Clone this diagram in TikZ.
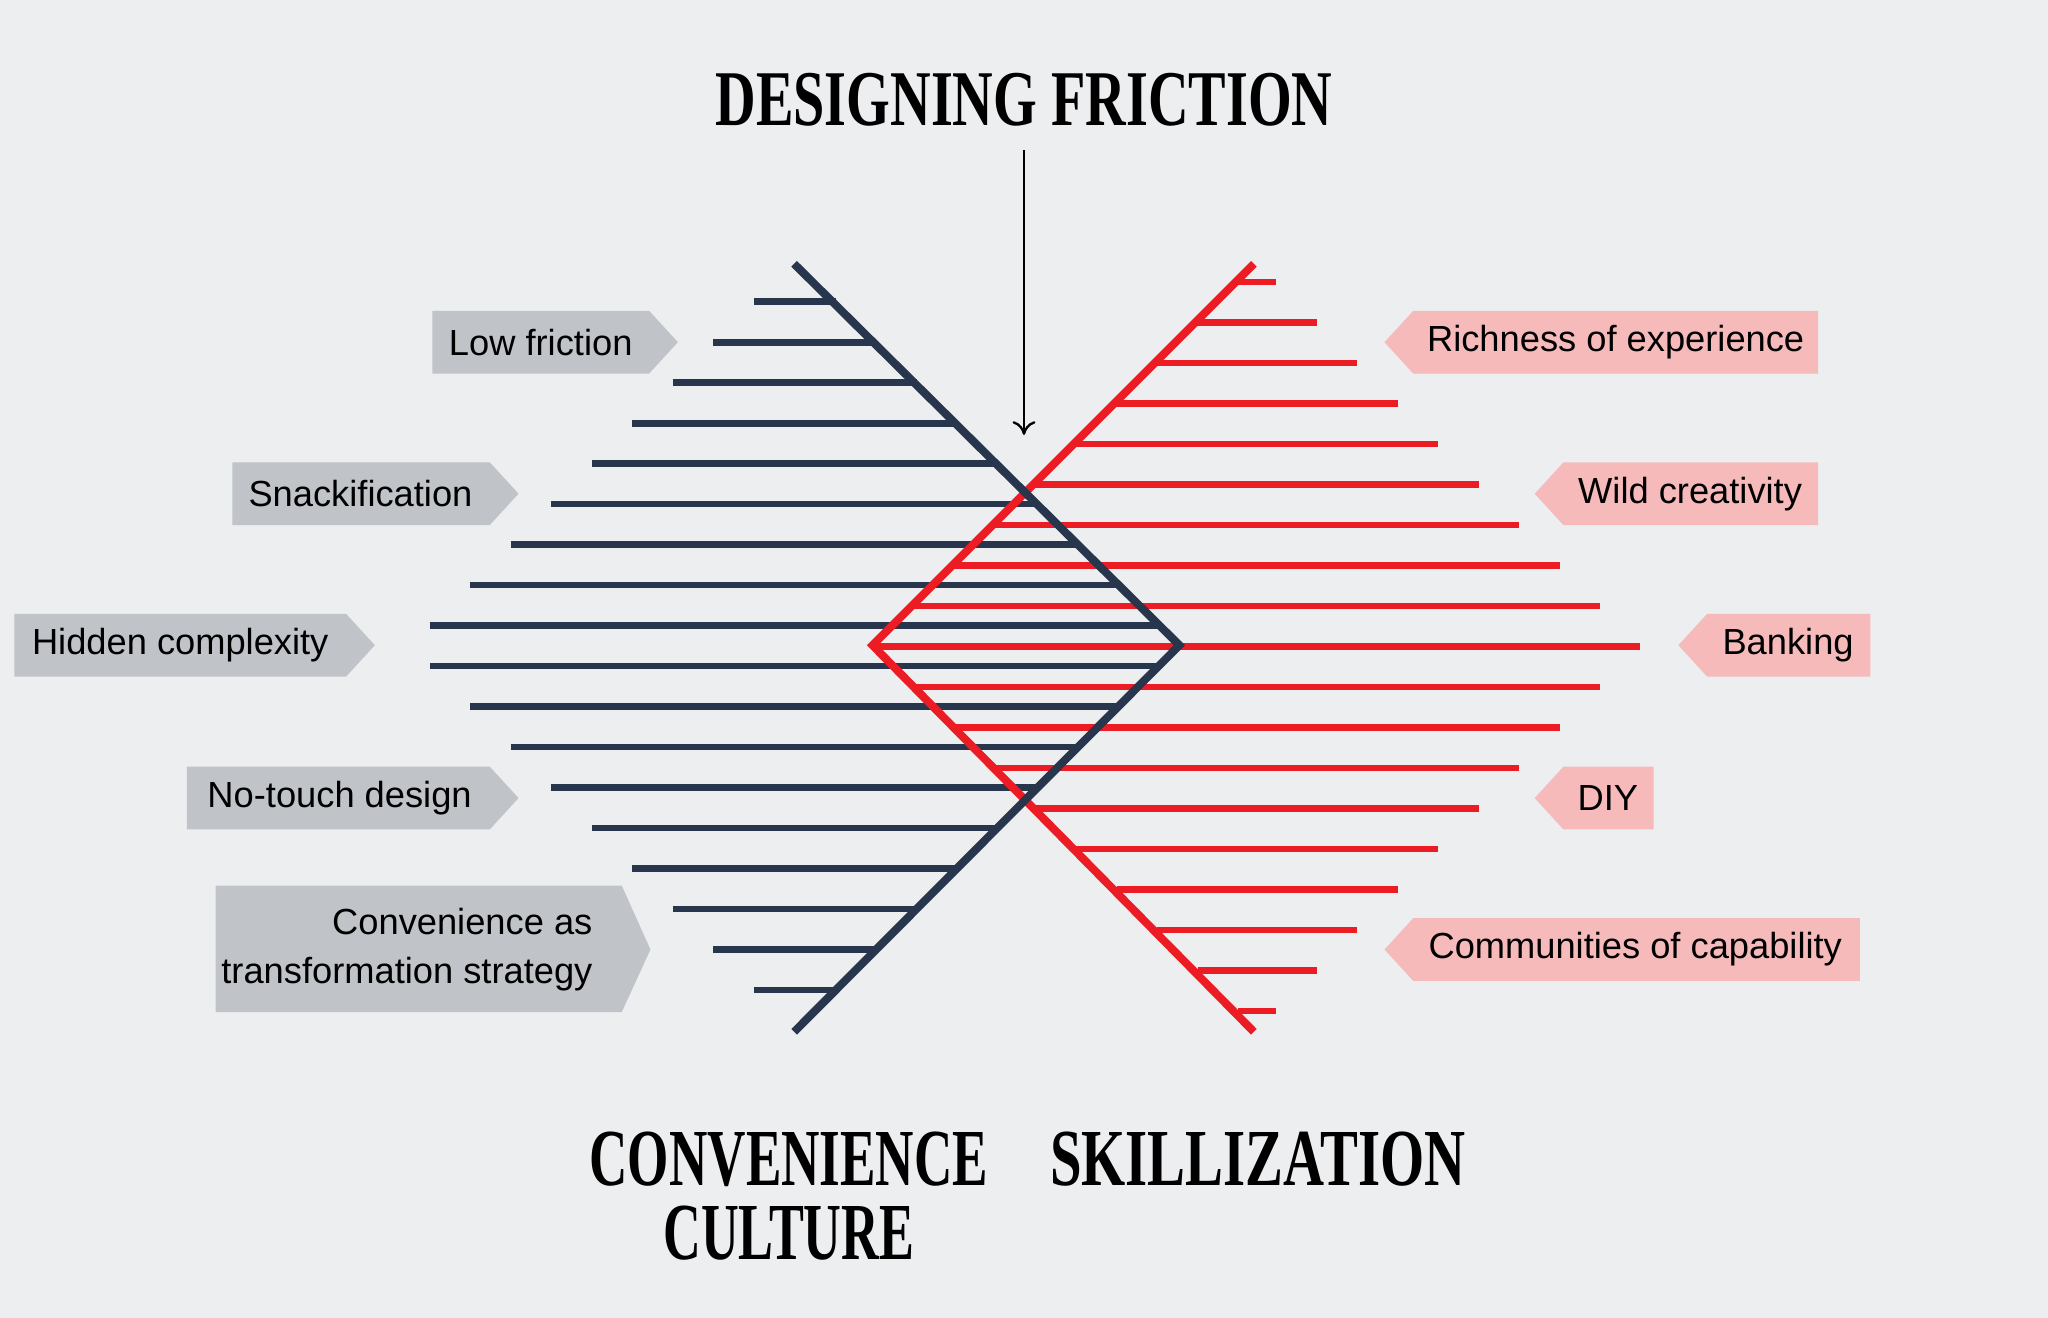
\documentclass[tikz,border=0pt]{standalone}
\usetikzlibrary{arrows.meta}
\usepackage{fontspec}
\setmainfont{Liberation Serif}
\setsansfont{Liberation Sans}
\usepackage{graphicx}
\definecolor{bg}{HTML}{EDEEF0}
\definecolor{navy}{HTML}{27364D}
\definecolor{rd}{HTML}{EC1C24}
\definecolor{gbox}{HTML}{C0C3C8}
\definecolor{pbox}{HTML}{F6BABB}
\begin{document}
\begin{tikzpicture}[x=0.01cm,y=-0.01cm,
  hl/.style={line width=1.45pt},
  diag/.style={line width=1.75pt,line join=miter},
  lbl/.style={font=\sffamily\fontsize{7.9}{9.5}\selectfont,anchor=center},
  ttl/.style={font=\bfseries,inner sep=0,anchor=base}]
\fill[bg] (0,0) rectangle (1568,1009);
\useasboundingbox (0,0) rectangle (1568,1009);
% red horizontals
\foreach \i in {0,...,18}{
  \pgfmathsetmacro{\yy}{216+31*\i}
  \pgfmathsetmacro{\xr}{1256-abs(\i-9)*31}
  \pgfmathsetmacro{\xl}{668+abs(\yy-494)}
  \draw[hl,rd] (\xl,\yy) -- (\xr,\yy);}
% dark horizontals
\foreach \i in {0,...,17}{
  \pgfmathsetmacro{\yy}{231+31*\i}
  \pgfmathsetmacro{\xl}{329+(abs(\i-8.5)-0.5)*31}
  \pgfmathsetmacro{\xr}{903-abs(\yy-494)}
  \draw[hl,navy] (\xl,\yy) -- (\xr,\yy);}
\draw[diag,rd] (960,202) -- (668,494) -- (960,790);
\draw[diag,navy] (608,202) -- (903,494) -- (608,790);
% left labels
\fill[gbox] (331,238) -- (497,238) -- (519,262) -- (497,286) -- (331,286) -- cycle;
\node[lbl] (l1) at (414,262) {Low friction};
\fill[gbox] (178,354) -- (375,354) -- (397,378) -- (375,402) -- (178,402) -- cycle;
\node[lbl] (l2) at (276,378) {Snackification};
\fill[gbox] (11,470) -- (265,470) -- (287,494) -- (265,518) -- (11,518) -- cycle;
\node[lbl] (l3) at (138,494) {Hidden complexity};
\fill[gbox] (143,587) -- (375,587) -- (397,611) -- (375,635) -- (143,635) -- cycle;
\node[lbl] (l4) at (260,611) {No-touch design};
\fill[gbox] (165,678) -- (476,678) -- (498,727) -- (476,775) -- (165,775) -- cycle;
\node[lbl,align=right,anchor=east] (l5) at (466,727) {Convenience as\\[1pt]transformation strategy};
% right labels
\fill[pbox] (1060,262) -- (1082,238) -- (1392,238) -- (1392,286) -- (1082,286) -- cycle;
\node[lbl] (r1) at (1237,262) {Richness of experience};
\fill[pbox] (1175,378) -- (1197,354) -- (1392,354) -- (1392,402) -- (1197,402) -- cycle;
\node[lbl] (r2) at (1294,378) {Wild creativity};
\fill[pbox] (1285,494) -- (1307,470) -- (1432,470) -- (1432,518) -- (1307,518) -- cycle;
\node[lbl] (r3) at (1369,494) {Banking};
\fill[pbox] (1175,611) -- (1197,587) -- (1266,587) -- (1266,635) -- (1197,635) -- cycle;
\node[lbl] (r4) at (1231,611) {DIY};
\fill[pbox] (1060,727) -- (1082,703) -- (1424,703) -- (1424,751) -- (1082,751) -- cycle;
\node[lbl] (r5) at (1252,727) {Communities of capability};
% titles
\node[ttl] (t) at (784,96) {\resizebox{4.72cm}{0.40cm}{DESIGNING FRICTION}};
\coordinate (a1) at (784,115);
\coordinate (a2) at (784,333);
\draw[line width=0.5pt,-{To[length=3pt,width=5pt]}] (a1) -- (a2);
\node[ttl] (c1) at (604,908) {\resizebox{3.05cm}{0.41cm}{CONVENIENCE}};
\node[ttl] (c2) at (604,964) {\resizebox{1.92cm}{0.41cm}{CULTURE}};
\node[ttl] (s1) at (963,908) {\resizebox{3.18cm}{0.41cm}{SKILLIZATION}};
\end{tikzpicture}
\end{document}
